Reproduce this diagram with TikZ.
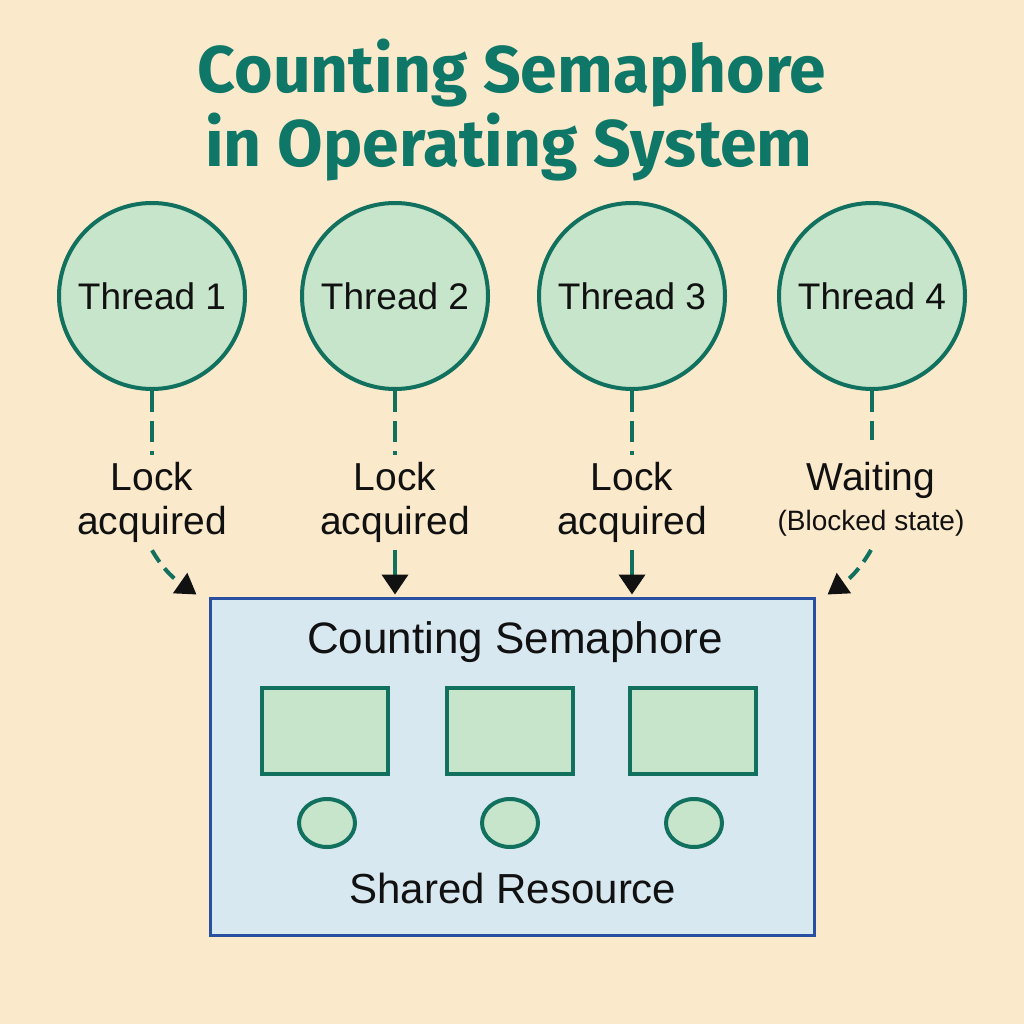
\documentclass[tikz,border=0pt]{standalone}
\usepackage{fontspec}
\setmainfont{Liberation Sans}
\newfontfamily\titlefont{Fira Sans}
\usetikzlibrary{arrows.meta}
\definecolor{bgc}{HTML}{FAEACB}
\definecolor{titlec}{HTML}{0E7768}
\definecolor{tealc}{HTML}{12705F}
\definecolor{greenc}{HTML}{C6E5CB}
\definecolor{boxfill}{HTML}{D8E8F0}
\definecolor{boxline}{HTML}{2950A0}
\definecolor{txtc}{HTML}{111111}
\tikzset{
  titletxt/.style={anchor=base, text=titlec, font=\titlefont\bfseries\fontsize{66}{74}\selectfont, inner sep=0},
  thread/.style={circle, draw=tealc, fill=greenc, line width=4pt, minimum size=186pt, inner sep=0, text=txtc, font=\fontsize{37}{40}\selectfont},
  labtxt/.style={anchor=base, inner sep=0, text=txtc, font=\fontsize{39}{44}\selectfont},
  smalltxt/.style={anchor=base, inner sep=0, text=txtc, font=\fontsize{28}{32}\selectfont},
  boxtxt/.style={anchor=base, inner sep=0, text=txtc, font=\fontsize{44}{48}\selectfont},
  semabox/.style={draw=boxline, fill=boxfill, line width=3pt, inner sep=0},
  slot/.style={draw=tealc, fill=greenc, line width=4pt, minimum width=126pt, minimum height=86pt, inner sep=0},
  token/.style={ellipse, draw=tealc, fill=greenc, line width=4pt, minimum width=56pt, minimum height=48pt, inner sep=0},
  upline/.style={draw=tealc, line width=4pt, dash pattern=on 21pt off 9pt},
  curvearrow/.style={draw=tealc, line width=4pt, dash pattern=on 14pt off 8pt, -{Triangle[length=20pt,width=24pt,color=txtc]}},
  straightarrow/.style={draw=tealc, line width=4pt, -{Triangle[length=20pt,width=26pt,color=txtc]}}
}
\usetikzlibrary{shapes.geometric}
\begin{document}
\begin{tikzpicture}[x=1pt,y=-1pt]
\fill[bgc] (0,0) rectangle (1024,1024);
\useasboundingbox (0,0) rectangle (1024,1024);

\node[titletxt] (title1) at (512,93) {Counting Semaphore};
\node[titletxt] (title2) at (509,167) {in Operating System};

\node[thread] (th1) at (152,296) {Thread 1};
\node[thread] (th2) at (395,296) {Thread 2};
\node[thread] (th3) at (632,296) {Thread 3};
\node[thread] (th4) at (872,296) {Thread 4};

\node[labtxt] (l1a) at (152,490) {Lock};
\node[labtxt] (l1b) at (152,534) {acquired};
\node[labtxt] (l2a) at (395,490) {Lock};
\node[labtxt] (l2b) at (395,534) {acquired};
\node[labtxt] (l3a) at (632,490) {Lock};
\node[labtxt] (l3b) at (632,534) {acquired};
\node[labtxt] (l4a) at (871,490) {Waiting};
\node[smalltxt] (l4b) at (871,530) {(Blocked state)};

\node[semabox, minimum width=604pt, minimum height=337pt] (box) at (512,766.5) {};
\node[boxtxt] (boxtitle) at (515,653) {Counting Semaphore};
\node[slot] (s1) at (325,731) {};
\node[slot] (s2) at (509.5,731) {};
\node[slot] (s3) at (692.5,731) {};
\node[token] (k1) at (327,823) {};
\node[token] (k2) at (510,823) {};
\node[token] (k3) at (694,823) {};
\node[boxtxt, font=\fontsize{42}{46}\selectfont] (shared) at (513,903) {Shared Resource};

\path[upline] (th1.south) -- ([yshift=7pt]th1.south |- l1a.north);
\path[upline] (th2.south) -- ([yshift=7pt]th2.south |- l2a.north);
\path[upline] (th3.south) -- ([yshift=7pt]th3.south |- l3a.north);
\path[upline] (th4.south) -- ([yshift=22pt]th4.south |- l4a.north);

\coordinate (e1) at ([xshift=-12pt,yshift=2pt]box.north west);
\coordinate (e4) at ([xshift=12pt,yshift=2pt]box.north east);
\path[curvearrow] ([yshift=-8pt]l1b.south) to[out=-60,in=145] (e1);
\path[straightarrow] ([yshift=-8pt]l2b.south) -- ([yshift=2pt]l2b.south |- box.north);
\path[straightarrow] ([yshift=-8pt]l3b.south) -- ([yshift=2pt]l3b.south |- box.north);
\path[curvearrow] ([yshift=-14pt]l4b.south) to[out=-120,in=35] (e4);
\end{tikzpicture}
\end{document}
